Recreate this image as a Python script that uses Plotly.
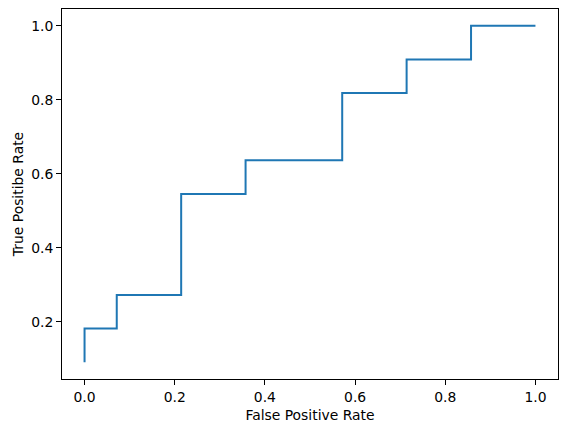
import plotly.graph_objects as go

# ROC curve points (false positive rate, true positive rate)
fpr = [0.0, 0.0, 1/14, 1/14, 3/14, 3/14, 5/14, 5/14, 8/14, 8/14, 10/14, 10/14, 12/14, 12/14, 1.0]
tpr = [1/11, 2/11, 2/11, 3/11, 3/11, 6/11, 6/11, 7/11, 7/11, 9/11, 9/11, 10/11, 10/11, 1.0, 1.0]
tick_vals = [0.0, 0.2, 0.4, 0.6, 0.8, 1.0]
tick_text = ['0.0', '0.2', '0.4', '0.6', '0.8', '1.0']

fig = go.Figure()
fig.add_trace(go.Scatter(
    x=fpr,
    y=tpr,
    mode='lines',
    line=dict(color='#1f77b4', width=2),
    showlegend=False
))

axis_style = dict(
    showgrid=False,
    zeroline=False,
    showline=True,
    linecolor='black',
    linewidth=1,
    mirror=True,
    ticks='outside',
    ticklen=5,
    tickwidth=1,
    tickcolor='black',
    tickvals=tick_vals,
    ticktext=tick_text,
    automargin=False,
    tickfont=dict(family='DejaVu Sans', size=13.9, color='black'),
)
title_font = dict(family='DejaVu Sans', size=13.9, color='black')

fig.update_layout(
    width=567,
    height=432,
    margin=dict(l=61.5, r=9.3, t=9, b=52.7, autoexpand=False),
    paper_bgcolor='white',
    plot_bgcolor='white',
    font=dict(family='DejaVu Sans', size=13.9, color='black'),
    xaxis=dict(axis_style, range=[-0.05, 1.05],
               title=dict(text='False Positive Rate', font=title_font, standoff=6)),
    yaxis=dict(axis_style, range=[1/11 - 0.909/20, 1 + 0.909/20],
               title=dict(text='True Positibe Rate', font=title_font, standoff=4)),
)

# drop the browser's default body margin so the figure sits at the page corner
fig.write_html('out.html', config={'displayModeBar': False},
               post_script="document.body.style.margin='0';")
